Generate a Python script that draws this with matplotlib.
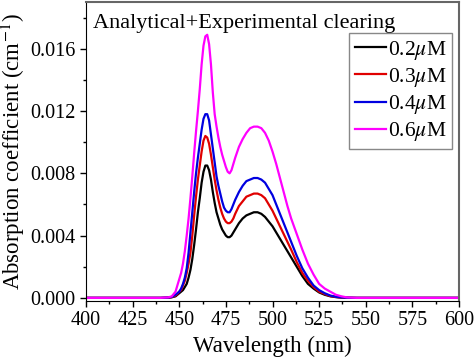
import numpy as np
import matplotlib
matplotlib.use('Agg')
import matplotlib.pyplot as plt
from matplotlib.ticker import MultipleLocator, FormatStrFormatter

plt.rcParams['font.family'] = ['Liberation Serif', 'DejaVu Serif']
plt.rcParams['mathtext.fontset'] = 'stix'

wavelength = [400, 440, 444, 446, 448, 449, 450, 451, 452, 453, 454, 455, 456, 457, 458, 459,
              460, 461, 462, 463, 464, 465, 466, 467, 468, 469, 470, 471, 472, 473, 474, 475,
              476, 477, 478, 479, 480, 482, 484, 486, 488, 490, 492, 494, 496, 498, 500, 502,
              504, 506, 508, 510, 513, 516, 519, 522, 525, 528, 531, 534, 537, 540, 545, 600]

conc_02 = [0, 0, 0.00001, 0.00004, 0.0001, 0.0002, 0.0003, 0.0004, 0.0005, 0.0007, 0.0009, 0.0013,
           0.0018, 0.0025, 0.0034, 0.0044, 0.0055, 0.0064, 0.0074, 0.0081, 0.0085, 0.0085, 0.0082,
           0.0076, 0.0068, 0.0061, 0.0055, 0.0051, 0.0047, 0.0044, 0.0042, 0.0040, 0.0039, 0.0039,
           0.0040, 0.0042, 0.0044, 0.0048, 0.0051, 0.0053, 0.0054, 0.0055, 0.0055, 0.0054, 0.0052,
           0.0049, 0.0046, 0.0042, 0.0038, 0.0034, 0.0030, 0.0026, 0.0020, 0.0014, 0.0009, 0.0006,
           0.00035, 0.0002, 0.0001, 0.00005, 0.00002, 0.00001, 0, 0]

conc_03 = [0, 0, 0.00002, 0.00005, 0.00015, 0.00025, 0.0004, 0.0005, 0.0008, 0.0011, 0.0016, 0.0022,
           0.0029, 0.0040, 0.0053, 0.0065, 0.0076, 0.0085, 0.0094, 0.0101, 0.0104, 0.0103, 0.0099,
           0.0092, 0.0084, 0.0076, 0.0069, 0.0063, 0.0058, 0.0054, 0.0051, 0.0049, 0.0048, 0.0048,
           0.0049, 0.0051, 0.0054, 0.0059, 0.0062, 0.0065, 0.0066, 0.0067, 0.0067, 0.0066, 0.0064,
           0.0060, 0.0056, 0.0051, 0.0046, 0.0041, 0.0036, 0.0031, 0.0023, 0.0016, 0.0011, 0.0007,
           0.0004, 0.00025, 0.00012, 0.00006, 0.00002, 0.00001, 0, 0]

conc_04 = [0, 0, 0.00002, 0.00006, 0.0002, 0.0003, 0.0004, 0.0006, 0.0009, 0.0013, 0.0019, 0.0029,
           0.0042, 0.0055, 0.0068, 0.0080, 0.0090, 0.0099, 0.0108, 0.0115, 0.0118, 0.0118, 0.0114,
           0.0105, 0.0096, 0.0087, 0.0078, 0.0072, 0.0067, 0.0062, 0.0058, 0.0056, 0.0055, 0.0055,
           0.0057, 0.0060, 0.0063, 0.0068, 0.0072, 0.0075, 0.0076, 0.0077, 0.0077, 0.0076, 0.0074,
           0.0070, 0.0066, 0.0060, 0.0054, 0.0048, 0.0042, 0.0036, 0.0027, 0.0019, 0.0013, 0.0008,
           0.0005, 0.0003, 0.00015, 0.00007, 0.00003, 0.00001, 0, 0]

conc_06 = [0, 0, 0.00003, 0.0001, 0.0004, 0.0008, 0.0012, 0.0016, 0.0022, 0.0030, 0.0040, 0.0051,
           0.0064, 0.0078, 0.0093, 0.0107, 0.0120, 0.0134, 0.0150, 0.0162, 0.0168, 0.0169, 0.0163,
           0.0150, 0.0132, 0.0118, 0.0110, 0.0103, 0.0097, 0.0092, 0.0088, 0.0084, 0.0081, 0.0080,
           0.0082, 0.0086, 0.0090, 0.0097, 0.0102, 0.0106, 0.0109, 0.0110, 0.0110, 0.0109, 0.0106,
           0.0101, 0.0094, 0.0086, 0.0077, 0.0068, 0.0059, 0.0051, 0.0041, 0.0031, 0.0022, 0.0015,
           0.0009, 0.0006, 0.0004, 0.0002, 0.0001, 0.00003, 0, 0]

labels = ['0.2$\\mu$M', '0.3$\\mu$M', '0.4$\\mu$M', '0.6$\\mu$M']
colors = ['black', '#e00000', '#0000e0', '#ff00ff']

fig = plt.figure(figsize=(4.74, 3.58), dpi=100)
ax = fig.add_axes([0.1814, 0.1592, 0.787, 0.835])

for y, lab, c in zip([conc_02, conc_03, conc_04, conc_06], labels, colors):
    ax.plot(wavelength, y, color=c, lw=1.6, label=lab)

ax.set_xlim(400, 600)
ax.set_ylim(-0.0002, 0.019)
ax.xaxis.set_major_locator(MultipleLocator(25))
ax.xaxis.set_minor_locator(MultipleLocator(12.5))
ax.yaxis.set_major_locator(MultipleLocator(0.004))
ax.yaxis.set_minor_locator(MultipleLocator(0.002))
ax.yaxis.set_major_formatter(FormatStrFormatter('%.3f'))
ax.tick_params(which='both', direction='out', top=False, right=False, labelsize=14.5)
ax.tick_params(which='major', length=4, width=1)
ax.tick_params(which='minor', length=2.5, width=1)

for s in ['top', 'right']:
    ax.spines[s].set_color('#666666')
    ax.spines[s].set_linewidth(1.5)

ax.set_xlabel('Wavelength (nm)', fontsize=16.5, labelpad=4)
ax.set_ylabel('Absorption coefficient (cm$^{-1}$)', fontsize=16.5, labelpad=2)
ax.text(0.018, 0.96, 'Analytical+Experimental clearing', transform=ax.transAxes,
        fontsize=16, va='top', ha='left')

leg = ax.legend(loc='upper right', bbox_to_anchor=(0.981, 0.896), borderaxespad=0,
                fontsize=15.5, fancybox=False, edgecolor='#888888', framealpha=1,
                handlelength=1.45, handletextpad=0.1, labelspacing=0.2, borderpad=0.25)
leg.get_frame().set_linewidth(1)

fig.savefig('out.png', dpi=100)
